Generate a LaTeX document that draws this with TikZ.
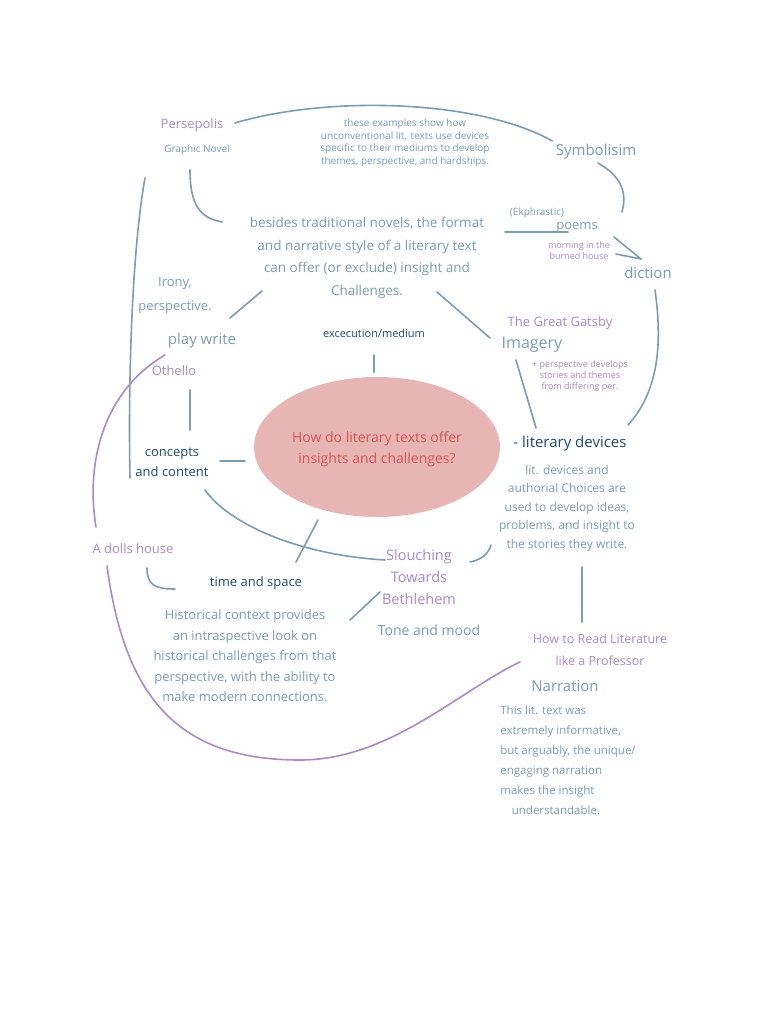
\documentclass[tikz,border=0pt]{standalone}
\usepackage{fontspec}
\usetikzlibrary{shapes.geometric}
\setmainfont{Open Sans}
\definecolor{bl}{HTML}{7A9DB2}
\definecolor{pu}{HTML}{A88AC6}
\definecolor{nv}{HTML}{1E4B68}
\definecolor{pk}{HTML}{E8B5B5}
\definecolor{rd}{HTML}{D2574F}
\tikzset{
 bt/.style={text=bl,align=center,font=\fontsize{13}{17}\selectfont},
 bts/.style={text=bl,align=center,font=\fontsize{10}{12.5}\selectfont},
 pt/.style={text=pu,align=center,font=\fontsize{13}{17}\selectfont},
 pts/.style={text=pu,align=center,font=\fontsize{9}{11}\selectfont},
 nt/.style={text=nv,align=center,font=\fontsize{13}{17}\selectfont},
 bl/.style={draw=bl,line width=1.6pt,line cap=round},
 pl/.style={draw=pu,line width=1.6pt,line cap=round},
}
\begin{document}
\begin{tikzpicture}[x=1pt,y=-1pt]
\useasboundingbox[fill=white] (0,0) rectangle (768,1024);
\node[fill=pk,ellipse,minimum width=246,minimum height=140,inner sep=0] (c) at (377,447) {};
\node[text=rd,align=center,font=\fontsize{14}{21}\selectfont] (q) at (377,449) {How do literary texts offer\\insights and challenges?};
\node[pt] (pers) at (192,125) {Persepolis};
\node[bts] (gn) at (197,150) {Graphic Novel};
\node[bts] (note) at (405,143) {these examples show how\\unconventional lit. texts use devices\\specific to their mediums to develop\\themes, perspective, and hardships.};
\node[bt,font=\fontsize{15}{17}\selectfont] (sym) at (596,152) {Symbolisim};
\node[bt,font=\fontsize{13.5}{22.5}\selectfont] (bes) at (367,258) {besides traditional novels, the format\\and narrative style of a literary text\\can offer (or exclude) insight and\\Challenges.};
\node[bts] (ek) at (537,213) {(Ekphrastic)};
\node[bt] (poems) at (577,228) {poems};
\node[pts] (morn) at (579,251) {morning in the\\burned house};
\node[bt,font=\fontsize{15}{17}\selectfont] (dic) at (648,273) {diction};
\node[bt,font=\fontsize{13}{24}\selectfont] (iro) at (175,295) {Irony,\\perspective.};
\node[bt,font=\fontsize{15}{17}\selectfont] (play) at (202,341) {play write};
\node[pt] (oth) at (174,371) {Othello};
\node[nt,font=\fontsize{11}{13}\selectfont] (exe) at (374,333) {excecution/medium};
\node[pt] (gat) at (560,323) {The Great Gatsby};
\node[bt,font=\fontsize{16}{18}\selectfont] (img) at (532,345) {Imagery};
\node[pts] (pd) at (580,376) {+ perspective develops\\stories and themes\\from differing per.};
\node[nt,font=\fontsize{13}{20}\selectfont] (con) at (172,462) {concepts\\and content};
\node[nt,font=\fontsize{15}{17}\selectfont] (ld) at (570,444) {- literary devices};
\node[bt,font=\fontsize{12}{18.5}\selectfont] (ldt) at (567,508) {lit. devices and\\authorial Choices are\\used to develop ideas,\\problems, and insight to\\the stories they write.};
\node[pt] (doll) at (133,549) {A dolls house};
\node[nt] (ts) at (256,583) {time and space};
\node[pt,font=\fontsize{14.5}{22}\selectfont] (sl) at (419,577) {Slouching\\Towards\\Bethlehem};
\node[bt,font=\fontsize{14}{17}\selectfont] (tm) at (429,630) {Tone and mood};
\node[bt,font=\fontsize{13}{20.5}\selectfont] (hist) at (245,656) {Historical context provides\\an intraspective look on\\historical challenges from that\\perspective, with the ability to\\make modern connections.};
\node[pt,font=\fontsize{12.5}{22}\selectfont] (how) at (600,650) {How to Read Literature\\like a Professor};
\node[bt,font=\fontsize{15}{17}\selectfont] (nar) at (565,686) {Narration};
\node[bt,font=\fontsize{11.5}{20}\selectfont,align=left] (thi) at (568,760) {This lit. text was\\extremely informative,\\but arguably, the unique/\\engaging narration\\makes the insight\\\quad understandable.};
% blue connectors
\draw[bl] (pers.east) ++(8,-2) .. controls (330,95) and (480,100) .. (sym.north west);
\draw[bl] (sym.south) ++(2,0) .. controls (628,180) and (625,200) .. (622,212);
\draw[bl] (614,237) -- (641,259);
\draw[bl] (616,254) -- (641,259);
\draw[bl] (505,232) -- (568,232);
\draw[bl] (190,170) .. controls (190,205) and (200,218) .. (222,222);
\draw[bl] (262,291) -- (230,318);
\draw[bl] (437,292) -- (490,338);
\draw[bl] (374,355) -- (374,372);
\draw[bl] (245,461) -- (220,461);
\draw[bl] (190,390) -- (190,430);
\draw[bl] (145,178) .. controls (132,250) and (128,380) .. (130,478);
\draw[bl] (205,490) .. controls (230,525) and (300,555) .. (385,560);
\draw[bl] (318,520) -- (296,562);
\draw[bl] (147,568) .. controls (147,585) and (155,589) .. (175,589);
\draw[bl] (491,545) .. controls (488,555) and (480,560) .. (470,562);
\draw[bl] (380,592) -- (350,620);
\draw[bl] (516,360) -- (536,428);
\draw[bl] (655,290) .. controls (662,340) and (660,390) .. (628,425);
\draw[bl] (582,567) -- (582,622);
% purple connectors
\draw[pl] (165,355) .. controls (105,390) and (85,460) .. (96,527);
\draw[pl] (107,566) .. controls (125,700) and (180,760) .. (300,760) .. controls (390,760) and (460,690) .. (520,662);
\end{tikzpicture}
\end{document}
